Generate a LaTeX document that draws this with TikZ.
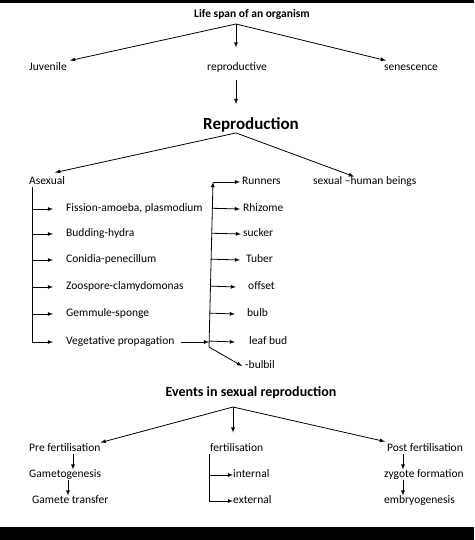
\documentclass[tikz,border=0pt]{standalone}
\usepackage{fontspec}
\setmainfont{Carlito}
\usetikzlibrary{calc}

\begin{document}
\begin{tikzpicture} [x=1pt,y=-1pt,>=latex,
			every node/.style={inner sep=0pt,text height=8pt,text depth=2.5pt,
				font=\fontsize{11.5}{13}\selectfont},
			item/.style={anchor=west},
			title/.style={font=\bfseries\fontsize{11.5}{13}\selectfont},
			big title/.style={font=\bfseries\fontsize{17}{20}\selectfont,text height=12pt,text depth=3.5pt},
			mid title/.style={font=\bfseries\fontsize{14}{16}\selectfont,text height=10pt,text depth=3pt},
			link/.style={->,line width=0.8pt},
			trunk/.style={line width=0.8pt}]

		\useasboundingbox (0,0) rectangle (474,540);
		\fill (0,0) rectangle (474,3);
		\fill (0,527) rectangle (474,540);

		% life span
		\node [title] (life) at (252,15) {Life span of an organism};
		\node [item] (juv) at (29,68) {Juvenile};
		\node (repr) at (237,68) {reproductive};
		\node [item] (sen) at (384,68) {senescence};
		\coordinate (ls) at (236,24);
		\draw [link] (ls) -- ([xshift=3pt,yshift=2pt]juv.north east);
		\draw [link] (ls) -- ([yshift=15pt]repr.north -| ls);
		\draw [link] (ls) -- ([xshift=2pt,yshift=2pt]sen.north west);

		% reproduction
		\node [big title] (rep) at (251,125) {Reproduction};
		\draw [link, shorten <=6.5pt, shorten >=13pt] (repr.south -| ls) -- (rep.north -| ls);
		\coordinate (rs) at (rep.south -| ls);
		\node [item] (asex) at (29,182) {Asexual};
		\node [item] (sex) at (313,182) {sexual –human beings};
		\draw [link] (rs) -- ([xshift=26pt,yshift=4pt]asex.north west);
		\draw [link] (rs) -- ([xshift=41pt]sex.north west);

		% asexual
		\foreach \n/\y/\t in {fis/209/{Fission-amoeba, plasmodium},bud/234/Budding-hydra,
				con/260/Conidia-penecillum,zoo/287/Zoospore-clamydomonas,
				gem/314/Gemmule-sponge,veg/342/Vegetative propagation}
			\node [item] (\n) at (66,\y) {\t};
		\coordinate (at) at ([xshift=3pt]asex.south west);
		\draw [trunk] (at) -- (at |- veg.west);
		\foreach \n in {fis,bud,con,zoo,gem,veg}
			\draw [link] (at |- \n.west) -- ([xshift=-13pt]\n.west);

		% vegetative propagation
		\foreach \n/\x/\y/\t in {run/242/182/Runners,rhi/243/209/Rhizome,suc/243/234/sucker,
				tub/246/260/Tuber,off/248/287/offset,blb/247/314/bulb,
				lfb/249/342/leaf bud,bbl/245/366/-bulbil}
			\node [item] (\n) at (\x,\y) {\t};
		\coordinate (vb) at (209,347);
		\coordinate (vt) at (213,182);
		\draw [link, shorten <=6pt] (veg.east) -- (veg.east -| vb);
		\draw [link] (vb) -- (vt);
		\draw [link] (vt) -- ([xshift=-2pt]run.west);
		\foreach \n/\g in {rhi/3,suc/2,tub/6,off/12,blb/12,lfb/14}
			\draw [link] ($(vb)!(\n.west)!(vt)$) -- ([xshift=-\g pt]\n.west);
		\draw [link] (vb) -- ([xshift=-3pt]bbl.west);

		% events in sexual reproduction
		\node [mid title] (ev) at (251,393) {Events in sexual reproduction};
		\coordinate (es) at (233,407);
		\node [item] (pre) at (29,449) {Pre fertilisation};
		\node [item] (fert) at (210,449) {fertilisation};
		\node [item] (post) at (387,449) {Post fertilisation};
		\draw [link] (es) -- ([yshift=1pt]pre.north east);
		\draw [link] (es) -- ([yshift=11pt]fert.north -| es);
		\draw [link] (es) -- ([xshift=-2pt,yshift=2pt]post.north west);

		\node [item] (gam) at (29,475) {Gametogenesis};
		\node [item] (gtr) at (32,501) {Gamete transfer};
		\draw [link] ([xshift=44pt]pre.south west) -- ([xshift=44pt]gam.north west);
		\draw [link] ([xshift=39pt]gam.south west) -- ([xshift=36pt]gtr.north west);

		\node [item] (int) at (233,475) {internal};
		\node [item] (ext) at (233,501) {external};
		\coordinate (ft) at ([xshift=-1pt]fert.south west);
		\draw [trunk] (ft) -- (ft |- ext.west);
		\draw [link] (ft |- int.west) -- (int.west);
		\draw [link] (ft |- ext.west) -- (ext.west);

		\node [item] (zyg) at (384,475) {zygote formation};
		\node [item] (emb) at (384,501) {embryogenesis};
		\coordinate (zx) at ([xshift=19pt]zyg.north west);
		\draw [link] (zx |- post.south) -- (zx);
		\draw [link] (zx |- zyg.south) -- (zx |- emb.north);

		\end{tikzpicture}
\end{document}
